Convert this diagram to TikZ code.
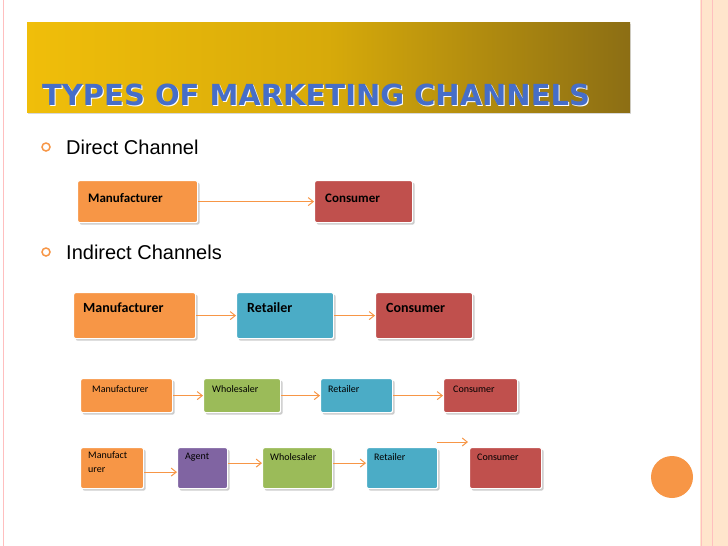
\documentclass[tikz,border=0pt]{standalone}
\usepackage{fontspec}
\setmainfont{Liberation Sans}
\newfontfamily\boxfont{Carlito}
\newfontfamily\titlefont{DejaVu Sans}
\usetikzlibrary{shadows,arrows.meta}
\definecolor{mfgcol}{RGB}{247,150,70}
\definecolor{retcol}{RGB}{75,172,198}
\definecolor{concol}{RGB}{192,80,77}
\definecolor{whocol}{RGB}{155,187,89}
\definecolor{agtcol}{RGB}{128,100,162}
\definecolor{titlecol}{RGB}{70,110,200}
\definecolor{goldl}{RGB}{240,190,10}
\definecolor{goldm}{RGB}{215,170,10}
\definecolor{goldr}{RGB}{140,110,20}
\tikzset{
  chbox/.style={draw=white, line width=1.2pt, rounded corners=2pt, anchor=north west,
    drop shadow={shadow xshift=2pt, shadow yshift=-2pt, opacity=0.4}},
  chtext/.style={anchor=west, font=\boxfont, inner sep=0pt},
  charrow/.style={draw=mfgcol, line width=1pt, -{Straight Barb[length=5pt,width=8pt]}},
  bullet/.style={anchor=west, inner sep=0pt, font=\fontsize{20}{24}\selectfont},
}
\begin{document}
\begin{tikzpicture}[x=1pt,y=-1pt]
\useasboundingbox (0,0) rectangle (728,546);
\fill[white] (0,0) rectangle (728,546);
% page borders
\fill[orange!20!white] (700,0) rectangle (728,546);
\draw[red!25, line width=1pt] (701,0) -- (701,546) (712,0) -- (712,546);
\draw[red!25, line width=1pt] (3,0) -- (3,546);
% title banner
\shade[left color=goldl, right color=goldr, middle color=goldm,
  drop shadow={shadow xshift=1pt, shadow yshift=-2pt, opacity=0.3}] (27,22) rectangle (630,112);
\node[anchor=base west, inner sep=0pt, font=\titlefont\fontsize{29}{29}\bfseries, text=white] (titleshadow) at (43,106) {TYPES OF MARKETING CHANNELS};
\node[anchor=base west, inner sep=0pt, font=\titlefont\fontsize{29}{29}\bfseries, text=titlecol] (title) at (42,105) {TYPES OF MARKETING CHANNELS};
% bullets
\draw[mfgcol, line width=1.5pt] (46,147) circle (4) (46,252) circle (4);
\node[bullet] (direct) at (66,147) {Direct Channel};
\node[bullet] (indirect) at (66,252) {Indirect Channels};
% direct channel
\node[chbox, fill=mfgcol, minimum width=120pt, minimum height=42pt] (d1) at (77,180) {};
\node[chbox, fill=concol, minimum width=98pt, minimum height=42pt] (d2) at (314,180) {};
\node[chtext, font=\boxfont\fontsize{13}{15}\bfseries] (d1t) at (88,198) {Manufacturer};
\node[chtext, font=\boxfont\fontsize{13}{15}\bfseries] (d2t) at (325,198) {Consumer};
\draw[charrow] (d1.east) -- (d2.west);
% indirect: one level
\node[chbox, fill=mfgcol, minimum width=122pt, minimum height=46pt] (a1) at (73,292) {};
\node[chbox, fill=retcol, minimum width=97pt, minimum height=46pt] (a2) at (236,292) {};
\node[chbox, fill=concol, minimum width=97pt, minimum height=46pt] (a3) at (375,292) {};
\node[chtext, font=\boxfont\fontsize{14}{16}\bfseries] (a1t) at (83,308) {Manufacturer};
\node[chtext, font=\boxfont\fontsize{14}{16}\bfseries] (a2t) at (247,308) {Retailer};
\node[chtext, font=\boxfont\fontsize{14}{16}\bfseries] (a3t) at (386,308) {Consumer};
\draw[charrow] (a1.east) -- (a2.west);
\draw[charrow] (a2.east) -- (a3.west);
% indirect: two levels
\node[chbox, fill=mfgcol, minimum width=92pt, minimum height=34pt] (w1) at (80,378) {};
\node[chbox, fill=whocol, minimum width=77pt, minimum height=34pt] (w2) at (203,378) {};
\node[chbox, fill=retcol, minimum width=72pt, minimum height=34pt] (w3) at (320,378) {};
\node[chbox, fill=concol, minimum width=74pt, minimum height=34pt] (w4) at (443,378) {};
\node[chtext, font=\boxfont\fontsize{10}{12}\selectfont] (w1t) at (92,389) {Manufacturer};
\node[chtext, font=\boxfont\fontsize{10}{12}\selectfont] (w2t) at (212,389) {Wholesaler};
\node[chtext, font=\boxfont\fontsize{10}{12}\selectfont] (w3t) at (328,389) {Retailer};
\node[chtext, font=\boxfont\fontsize{10}{12}\selectfont] (w4t) at (453,389) {Consumer};
\draw[charrow] (w1.east) -- (w2.west);
\draw[charrow] (w2.east) -- (w3.west);
\draw[charrow] (w3.east) -- (w4.west);
% indirect: three levels
\node[chbox, fill=mfgcol, minimum width=63pt, minimum height=41pt] (g1) at (80,447) {};
\node[chbox, fill=agtcol, minimum width=50pt, minimum height=41pt] (g2) at (177,447) {};
\node[chbox, fill=whocol, minimum width=70pt, minimum height=41pt] (g3) at (262,447) {};
\node[chbox, fill=retcol, minimum width=71pt, minimum height=41pt] (g4) at (366,447) {};
\node[chbox, fill=concol, minimum width=72pt, minimum height=41pt] (g5) at (469,447) {};
\node[chtext, font=\boxfont\fontsize{10}{14}\selectfont, align=left, anchor=north west] (g1t) at (88,451) {Manufact\\urer};
\node[chtext, font=\boxfont\fontsize{10}{12}\selectfont] (g2t) at (185,457) {Agent};
\node[chtext, font=\boxfont\fontsize{10}{12}\selectfont] (g3t) at (270,457) {Wholesaler};
\node[chtext, font=\boxfont\fontsize{10}{12}\selectfont] (g4t) at (374,457) {Retailer};
\node[chtext, font=\boxfont\fontsize{10}{12}\selectfont] (g5t) at (477,457) {Consumer};
\coordinate (g4up) at (437,442);
\coordinate (g5up) at (468,442);
\draw[charrow] ([yshift=-4pt]g1.east) -- ([yshift=-4pt]g2.west);
\draw[charrow] ([yshift=5pt]g2.east) -- ([yshift=5pt]g3.west);
\draw[charrow] ([yshift=5pt]g3.east) -- ([yshift=5pt]g4.west);
\draw[charrow] (g4up) -- (g5up);
% corner circle
\fill[mfgcol] (672,477) circle (21);
\end{tikzpicture}
\end{document}
